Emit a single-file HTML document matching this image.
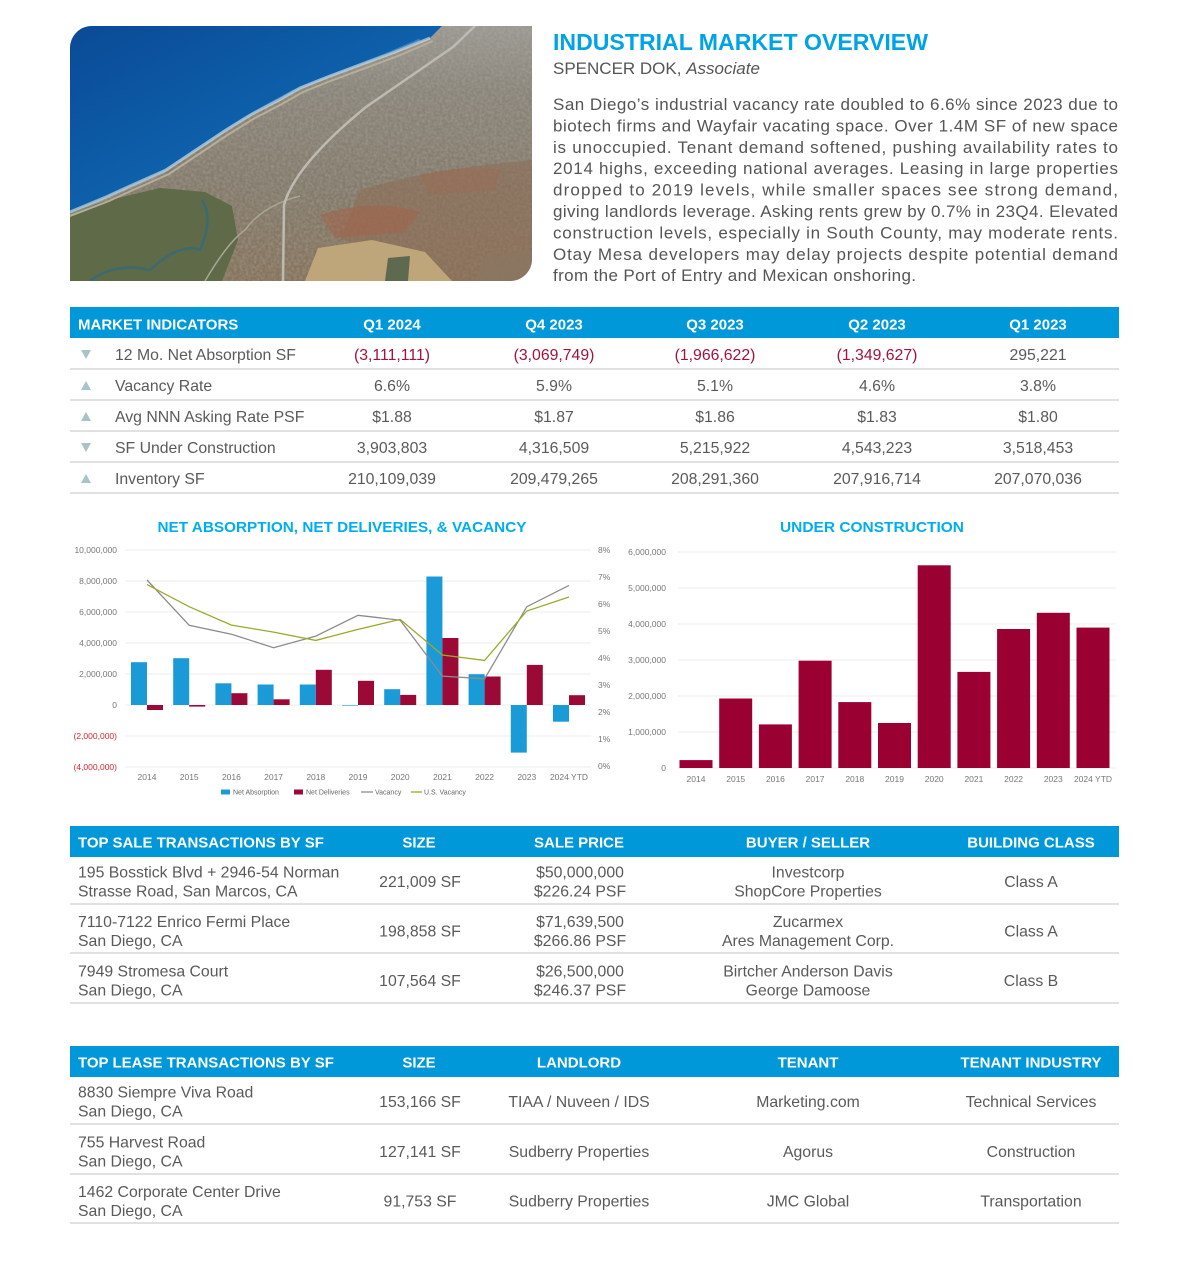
<!DOCTYPE html>
<html><head><meta charset="utf-8"><style>
html,body{margin:0;padding:0;background:#fff;}
svg{display:block;}
text{font-family:"Liberation Sans",Arial,sans-serif;}
.hd{font-weight:bold;font-size:15px;fill:#fff;}
.tx{font-size:15.8px;fill:#5a5a5a;}
.ax{font-size:8.5px;fill:#777;}
.lg{font-size:7px;fill:#666;}
</style></head><body>
<svg width="1189" height="1280" viewBox="0 0 1189 1280" xmlns="http://www.w3.org/2000/svg">
<defs>
<clipPath id="ph"><path d="M92,26 H532 V259 A22,22 0 0 1 510,281 H70 V48 A22,22 0 0 1 92,26 Z"/></clipPath>
<linearGradient id="sea" x1="0" y1="0" x2="1" y2="1">
<stop offset="0" stop-color="#0a4a96"/><stop offset="0.55" stop-color="#0e62ac"/><stop offset="1" stop-color="#2388c4"/></linearGradient>
<linearGradient id="land" x1="0" y1="0" x2="0" y2="1">
<stop offset="0" stop-color="#9a9891"/><stop offset="0.25" stop-color="#8a857a"/><stop offset="0.65" stop-color="#837a6a"/><stop offset="1" stop-color="#85735b"/></linearGradient>
<filter id="tex" x="0" y="0" width="1" height="1">
<feTurbulence type="fractalNoise" baseFrequency="0.35" numOctaves="2" seed="3" result="n"/>
<feColorMatrix type="matrix" values="0 0 0 0 0.5  0 0 0 0 0.48  0 0 0 0 0.44  1.2 0 0 0 -0.35" in="n"/>
<feComposite operator="in" in2="SourceGraphic"/>
</filter>
</defs>

<!-- PHOTO -->
<g clip-path="url(#ph)">
<rect x="70" y="26" width="462" height="255" fill="url(#land)"/>
<rect x="70" y="26" width="462" height="255" fill="#fff" filter="url(#tex)" opacity="0.5"/>
<path d="M360,190 Q420,170 532,160 L532,281 L440,281 L400,250 L340,240 Z" fill="#8e6e56" opacity="0.55"/>
<path d="M320,215 Q370,198 420,212 L405,232 L335,238 Z" fill="#a2624a" opacity="0.55"/>
<path d="M420,175 Q460,165 500,170 L495,190 L430,195 Z" fill="#9c6a52" opacity="0.45"/>
<path d="M305,281 L318,248 L372,240 L425,252 L452,281 Z" fill="#bea57a"/>
<path d="M475,281 L482,258 L532,250 L532,281 Z" fill="#8a7762" opacity="0.8"/>
<path d="M385,281 L388,258 L410,256 L408,281 Z" fill="#5e6a50"/>
<path d="M70,212 L110,200 L160,188 L205,192 L232,206 L238,240 L222,281 L70,281 Z" fill="#5f6a48"/>
<path d="M90,281 Q115,262 150,270 Q180,242 200,250 Q214,218 202,200" fill="none" stroke="#3d6a70" stroke-width="2.5"/>
<path d="M205,281 Q228,242 245,230 Q262,206 300,196" fill="none" stroke="#a9a598" stroke-width="1.5"/>
<polygon points="70,26 442,26 430,38 395,52 330,76 300,88 279,100 252,114 226,130 196,150 166,170 130,186 106,197 70,212" fill="url(#sea)"/>
<polyline points="430,38 395,52 330,76 300,88 279,100 252,114 226,130 196,150 166,170 130,186 106,197 70,212" fill="none" stroke="#dfe9ec" stroke-width="3" opacity="0.6"/>
<polyline points="420,40 385,55 320,80 292,92 270,104 245,118 220,134 190,154 160,174 124,190 100,201 70,214" fill="none" stroke="#9ec4dc" stroke-width="3" opacity="0.35"/>
<polyline points="433,41 398,56 333,80 303,92 282,104 255,118 229,134 199,154 169,174 133,190 109,201 70,216" fill="none" stroke="#b7ae98" stroke-width="2"/>
<path d="M283,281 L284,205 Q295,165 366,107 L453,47 L475,26" fill="none" stroke="#bcbab2" stroke-width="2.5"/>
</g>

<!-- HEADER TEXT -->
<text x="553" y="50" font-size="23" font-weight="bold" fill="#00a3e6" textLength="375" lengthAdjust="spacingAndGlyphs">INDUSTRIAL MARKET OVERVIEW</text>
<text x="553" y="74" font-size="17" fill="#555">SPENCER DOK, <tspan font-style="italic">Associate</tspan></text>
<g font-size="17" fill="#555">
<text x="553" y="110" textLength="565" lengthAdjust="spacing">San Diego’s industrial vacancy rate doubled to 6.6% since 2023 due to</text>
<text x="553" y="131.4" textLength="565" lengthAdjust="spacing">biotech firms and Wayfair vacating space. Over 1.4M SF of new space</text>
<text x="553" y="152.8" textLength="565" lengthAdjust="spacing">is unoccupied. Tenant demand softened, pushing availability rates to</text>
<text x="553" y="174.2" textLength="565" lengthAdjust="spacing">2014 highs, exceeding national averages. Leasing in large properties</text>
<text x="553" y="195.6" textLength="565" lengthAdjust="spacing">dropped to 2019 levels, while smaller spaces see strong demand,</text>
<text x="553" y="217" textLength="565" lengthAdjust="spacing">giving landlords leverage. Asking rents grew by 0.7% in 23Q4. Elevated</text>
<text x="553" y="238.4" textLength="565" lengthAdjust="spacing">construction levels, especially in South County, may moderate rents.</text>
<text x="553" y="259.8" textLength="565" lengthAdjust="spacing">Otay Mesa developers may delay projects despite potential demand</text>
<text x="553" y="281.2" textLength="363" lengthAdjust="spacing">from the Port of Entry and Mexican onshoring.</text>
</g>

<!-- MARKET INDICATORS -->
<rect x="70" y="307" width="1049" height="31" fill="#0098d9"/>
<text class="hd" x="78" y="329.5">MARKET INDICATORS</text>
<g class="hd" text-anchor="middle">
<text x="392" y="329.5">Q1 2024</text><text x="554" y="329.5">Q4 2023</text><text x="715" y="329.5">Q3 2023</text><text x="877" y="329.5">Q2 2023</text><text x="1038" y="329.5">Q1 2023</text>
</g>
<g fill="#e1e1e1">
<rect x="70" y="368" width="1049" height="2"/><rect x="70" y="399" width="1049" height="2"/><rect x="70" y="430" width="1049" height="2"/><rect x="70" y="461" width="1049" height="2"/><rect x="70" y="492" width="1049" height="2"/>
</g>
<g fill="#a9c3ca">
<polygon points="81,350 91,350 86,359"/>
<polygon points="81,390 91,390 86,381"/>
<polygon points="81,421 91,421 86,412"/>
<polygon points="81,443 91,443 86,452"/>
<polygon points="81,483 91,483 86,474"/>
</g>
<g class="tx" font-size="16">
<text x="115" y="360">12 Mo. Net Absorption SF</text>
<text x="115" y="391">Vacancy Rate</text>
<text x="115" y="422">Avg NNN Asking Rate PSF</text>
<text x="115" y="453">SF Under Construction</text>
<text x="115" y="484">Inventory SF</text>
</g>
<g class="tx" font-size="16" text-anchor="middle">
<g fill="#a0143c">
<text x="392" y="360">(3,111,111)</text><text x="554" y="360">(3,069,749)</text><text x="715" y="360">(1,966,622)</text><text x="877" y="360">(1,349,627)</text>
</g>
<text x="1038" y="360">295,221</text>
<text x="392" y="391">6.6%</text><text x="554" y="391">5.9%</text><text x="715" y="391">5.1%</text><text x="877" y="391">4.6%</text><text x="1038" y="391">3.8%</text>
<text x="392" y="422">$1.88</text><text x="554" y="422">$1.87</text><text x="715" y="422">$1.86</text><text x="877" y="422">$1.83</text><text x="1038" y="422">$1.80</text>
<text x="392" y="453">3,903,803</text><text x="554" y="453">4,316,509</text><text x="715" y="453">5,215,922</text><text x="877" y="453">4,543,223</text><text x="1038" y="453">3,518,453</text>
<text x="392" y="484">210,109,039</text><text x="554" y="484">209,479,265</text><text x="715" y="484">208,291,360</text><text x="877" y="484">207,916,714</text><text x="1038" y="484">207,070,036</text>
</g>

<!-- LEFT CHART -->
<text x="342" y="532" font-size="15" font-weight="bold" fill="#00aeef" text-anchor="middle" textLength="369" lengthAdjust="spacingAndGlyphs">NET ABSORPTION, NET DELIVERIES, &amp; VACANCY</text>
<g stroke="#ececec" stroke-width="1">
<line x1="125" y1="550" x2="591" y2="550"/><line x1="125" y1="581" x2="591" y2="581"/><line x1="125" y1="612" x2="591" y2="612"/><line x1="125" y1="643" x2="591" y2="643"/><line x1="125" y1="674" x2="591" y2="674"/><line x1="125" y1="705" x2="591" y2="705"/><line x1="125" y1="736" x2="591" y2="736"/><line x1="125" y1="767" x2="591" y2="767"/>
</g>
<g class="ax" text-anchor="end">
<text x="117" y="553">10,000,000</text><text x="117" y="584">8,000,000</text><text x="117" y="615">6,000,000</text><text x="117" y="646">4,000,000</text><text x="117" y="677">2,000,000</text><text x="117" y="708">0</text>
<text x="117" y="739" fill="#d8262e">(2,000,000)</text><text x="117" y="770" fill="#d8262e">(4,000,000)</text>
</g>
<g class="ax">
<text x="598" y="553">8%</text><text x="598" y="580">7%</text><text x="598" y="607">6%</text><text x="598" y="634">5%</text><text x="598" y="661">4%</text><text x="598" y="688">3%</text><text x="598" y="715">2%</text><text x="598" y="742">1%</text><text x="598" y="769">0%</text>
</g>
<g fill="#1a9bd7">
<rect x="131" y="662.2" width="16" height="42.8"/>
<rect x="173.2" y="658.2" width="16" height="46.8"/>
<rect x="215.4" y="683.3" width="16" height="21.7"/>
<rect x="257.6" y="684.5" width="16" height="20.5"/>
<rect x="299.8" y="684.5" width="16" height="20.5"/>
<rect x="342" y="705" width="16" height="0.6"/>
<rect x="384.2" y="689.2" width="16" height="15.8"/>
<rect x="426.4" y="576.5" width="16" height="128.5"/>
<rect x="468.6" y="674.2" width="16" height="30.8"/>
<rect x="510.8" y="705" width="16" height="47.6"/>
<rect x="553" y="705" width="16" height="16.7"/>
</g>
<g fill="#9b0a36">
<rect x="147" y="705" width="16" height="5"/>
<rect x="189.2" y="705" width="16" height="1.6"/>
<rect x="231.4" y="693.2" width="16" height="11.8"/>
<rect x="273.6" y="699.3" width="16" height="5.7"/>
<rect x="315.8" y="669.8" width="16" height="35.2"/>
<rect x="358" y="680.8" width="16" height="24.2"/>
<rect x="400.2" y="694.9" width="16" height="10.1"/>
<rect x="442.4" y="638" width="16" height="67"/>
<rect x="484.6" y="676.5" width="16" height="28.5"/>
<rect x="526.8" y="664.9" width="16" height="40.1"/>
<rect x="569" y="695.2" width="16" height="9.8"/>
</g>
<polyline fill="none" stroke="#8c8c8c" stroke-width="1.3" points="147,580 189.2,625.3 231.4,634.2 273.6,647.7 315.8,636.1 358,615.3 400.2,620.2 442.4,676.1 484.6,678.8 526.8,606.7 569,585.4"/>
<polyline fill="none" stroke="#9aab2a" stroke-width="1.3" points="147,584.6 189.2,606.7 231.4,625.1 273.6,632.1 315.8,640.4 358,629.4 400.2,619.4 442.4,655 484.6,660.4 526.8,611 569,597"/>
<g class="ax" font-size="8.3" text-anchor="middle">
<text x="147" y="780">2014</text><text x="189.2" y="780">2015</text><text x="231.4" y="780">2016</text><text x="273.6" y="780">2017</text><text x="315.8" y="780">2018</text><text x="358" y="780">2019</text><text x="400.2" y="780">2020</text><text x="442.4" y="780">2021</text><text x="484.6" y="780">2022</text><text x="526.8" y="780">2023</text><text x="569" y="780">2024 YTD</text>
</g>
<rect x="221" y="789.5" width="9" height="5" fill="#1a9bd7"/>
<text class="lg" x="233" y="794.5">Net Absorption</text>
<rect x="294" y="789.5" width="9" height="5" fill="#9b0a36"/>
<text class="lg" x="306" y="794.5">Net Deliveries</text>
<line x1="361" y1="792" x2="373" y2="792" stroke="#8c8c8c" stroke-width="1.3"/>
<text class="lg" x="375" y="794.5">Vacancy</text>
<line x1="411" y1="792" x2="422" y2="792" stroke="#9aab2a" stroke-width="1.3"/>
<text class="lg" x="424" y="794.5">U.S. Vacancy</text>

<!-- RIGHT CHART -->
<text x="872" y="532" font-size="15" font-weight="bold" fill="#00aeef" text-anchor="middle" textLength="184" lengthAdjust="spacingAndGlyphs">UNDER CONSTRUCTION</text>
<g stroke="#ececec" stroke-width="1">
<line x1="678" y1="552" x2="1116" y2="552"/><line x1="678" y1="588" x2="1116" y2="588"/><line x1="678" y1="624" x2="1116" y2="624"/><line x1="678" y1="660" x2="1116" y2="660"/><line x1="678" y1="696" x2="1116" y2="696"/><line x1="678" y1="732" x2="1116" y2="732"/><line x1="678" y1="768" x2="1116" y2="768"/>
</g>
<g class="ax" text-anchor="end">
<text x="666" y="555">6,000,000</text><text x="666" y="591">5,000,000</text><text x="666" y="627">4,000,000</text><text x="666" y="663">3,000,000</text><text x="666" y="699">2,000,000</text><text x="666" y="735">1,000,000</text><text x="666" y="771">0</text>
</g>
<g fill="#9b0032">
<rect x="679.5" y="760.1" width="33" height="7.9"/>
<rect x="719.2" y="698.5" width="33" height="69.5"/>
<rect x="758.9" y="724.4" width="33" height="43.6"/>
<rect x="798.6" y="660.7" width="33" height="107.3"/>
<rect x="838.3" y="702.1" width="33" height="65.9"/>
<rect x="878" y="723" width="33" height="45"/>
<rect x="917.7" y="565.3" width="33" height="202.7"/>
<rect x="957.4" y="671.9" width="33" height="96.1"/>
<rect x="997.1" y="629" width="33" height="139"/>
<rect x="1036.8" y="612.8" width="33" height="155.2"/>
<rect x="1076.5" y="627.6" width="33" height="140.4"/>
</g>
<g class="ax" font-size="8.3" text-anchor="middle">
<text x="696" y="782">2014</text><text x="735.7" y="782">2015</text><text x="775.4" y="782">2016</text><text x="815.1" y="782">2017</text><text x="854.8" y="782">2018</text><text x="894.5" y="782">2019</text><text x="934.2" y="782">2020</text><text x="973.9" y="782">2021</text><text x="1013.6" y="782">2022</text><text x="1053.3" y="782">2023</text><text x="1093" y="782">2024 YTD</text>
</g>

<!-- SALE TABLE -->
<rect x="70" y="826" width="1049" height="31" fill="#0098d9"/>
<text class="hd" x="78" y="847.5">TOP SALE TRANSACTIONS BY SF</text>
<g class="hd" text-anchor="middle">
<text x="419" y="847.5">SIZE</text><text x="579" y="847.5">SALE PRICE</text><text x="808" y="847.5">BUYER / SELLER</text><text x="1031" y="847.5">BUILDING CLASS</text>
</g>
<g fill="#e1e1e1">
<rect x="70" y="903" width="1049" height="2"/><rect x="70" y="952" width="1049" height="2"/><rect x="70" y="1002" width="1049" height="2"/>
</g>
<g class="tx">
<text x="78" y="877.5">195 Bosstick Blvd + 2946-54 Norman</text>
<text x="78" y="896.5">Strasse Road, San Marcos, CA</text>
<text x="78" y="927">7110-7122 Enrico Fermi Place</text>
<text x="78" y="946">San Diego, CA</text>
<text x="78" y="976.5">7949 Stromesa Court</text>
<text x="78" y="995.5">San Diego, CA</text>
</g>
<g class="tx" text-anchor="middle">
<text x="420" y="887">221,009 SF</text><text x="420" y="936.5">198,858 SF</text><text x="420" y="986">107,564 SF</text>
<text x="580" y="877.5">$50,000,000</text><text x="580" y="896.5">$226.24 PSF</text>
<text x="580" y="927">$71,639,500</text><text x="580" y="946">$266.86 PSF</text>
<text x="580" y="976.5">$26,500,000</text><text x="580" y="995.5">$246.37 PSF</text>
<text x="808" y="877.5">Investcorp</text><text x="808" y="896.5">ShopCore Properties</text>
<text x="808" y="927">Zucarmex</text><text x="808" y="946">Ares Management Corp.</text>
<text x="808" y="976.5">Birtcher Anderson Davis</text><text x="808" y="995.5">George Damoose</text>
<text x="1031" y="887">Class A</text><text x="1031" y="936.5">Class A</text><text x="1031" y="986">Class B</text>
</g>

<!-- LEASE TABLE -->
<rect x="70" y="1046" width="1049" height="31" fill="#0098d9"/>
<text class="hd" x="78" y="1067.5">TOP LEASE TRANSACTIONS BY SF</text>
<g class="hd" text-anchor="middle">
<text x="419" y="1067.5">SIZE</text><text x="579" y="1067.5">LANDLORD</text><text x="808" y="1067.5">TENANT</text><text x="1031" y="1067.5">TENANT INDUSTRY</text>
</g>
<g fill="#e1e1e1">
<rect x="70" y="1123" width="1049" height="2"/><rect x="70" y="1173" width="1049" height="2"/><rect x="70" y="1222" width="1049" height="2"/>
</g>
<g class="tx">
<text x="78" y="1097.5">8830 Siempre Viva Road</text>
<text x="78" y="1116.5">San Diego, CA</text>
<text x="78" y="1147.5">755 Harvest Road</text>
<text x="78" y="1166.5">San Diego, CA</text>
<text x="78" y="1197">1462 Corporate Center Drive</text>
<text x="78" y="1216">San Diego, CA</text>
</g>
<g class="tx" text-anchor="middle">
<text x="420" y="1107">153,166 SF</text><text x="420" y="1157">127,141 SF</text><text x="420" y="1206.5">91,753 SF</text>
<text x="579" y="1107">TIAA / Nuveen / IDS</text><text x="579" y="1157">Sudberry Properties</text><text x="579" y="1206.5">Sudberry Properties</text>
<text x="808" y="1107">Marketing.com</text><text x="808" y="1157">Agorus</text><text x="808" y="1206.5">JMC Global</text>
<text x="1031" y="1107">Technical Services</text><text x="1031" y="1157">Construction</text><text x="1031" y="1206.5">Transportation</text>
</g>
</svg>
</body></html>
